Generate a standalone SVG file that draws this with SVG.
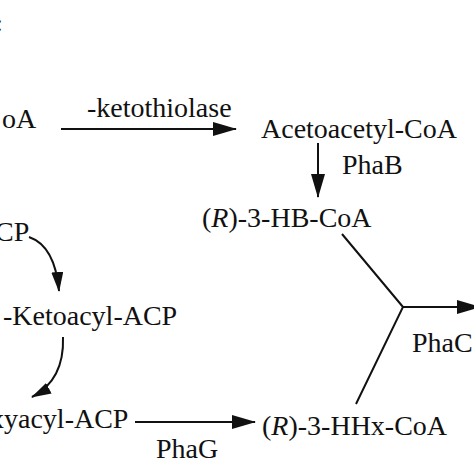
<svg xmlns="http://www.w3.org/2000/svg" width="474" height="474" viewBox="0 0 474 474">
<defs>
<style>
text{font-family:"Liberation Serif","Times New Roman",serif;font-size:28px;fill:#111}
.c{fill:none;stroke:#111;stroke-width:2}
</style>
<marker id="ah" markerUnits="userSpaceOnUse" markerWidth="26" markerHeight="16" refX="23" refY="7" orient="auto"><path d="M0,0 L24,7 L0,14 Z" fill="#111"/></marker>
<marker id="ahs" markerUnits="userSpaceOnUse" markerWidth="22" markerHeight="14" refX="19" refY="6" orient="auto"><path d="M0,0 L20,6 L0,12 Z" fill="#111"/></marker>
</defs>
<g id="colon"><text x="-4" y="31" style="font-size:24px">:</text></g>
<g id="acetylcoa"><text x="2" y="128">oA</text></g>
<g id="acetoacetylcoa"><text x="261" y="138">Acetoacetyl-CoA</text></g>
<g id="hbcoa"><text x="202" y="227">(<tspan font-style="italic">R</tspan>)-3-HB-CoA</text></g>
<g id="acylacp"><text x="-5" y="241">CP</text></g>
<g id="ketoacylacp"><text x="3" y="325">-Ketoacyl-ACP</text></g>
<g id="hydroxyacylacp"><text x="-10" y="428">xyacyl-ACP</text></g>
<g id="hhxcoa"><text x="262" y="435">(<tspan font-style="italic">R</tspan>)-3-HHx-CoA</text></g>
<g id="connectors">
<path class="c" d="M61,129 H236" marker-end="url(#ah)"/>
<path class="c" d="M318,143 V197" marker-end="url(#ah)"/>
<path class="c" d="M342,234 L403,307 L356,404"/>
<path class="c" d="M403,307 H480" marker-end="url(#ah)"/>
<path class="c" d="M135,422 H255" marker-end="url(#ah)"/>
<path class="c" d="M29,237 Q55,246 59,291" marker-end="url(#ahs)"/>
<path class="c" d="M63,337 C64,365 55,385 32,397" marker-end="url(#ahs)"/>
<text x="87" y="117">-ketothiolase</text>
<text x="342" y="174">PhaB</text>
<text x="412" y="352">PhaC</text>
<text x="156" y="458">PhaG</text>
</g>
</svg>
